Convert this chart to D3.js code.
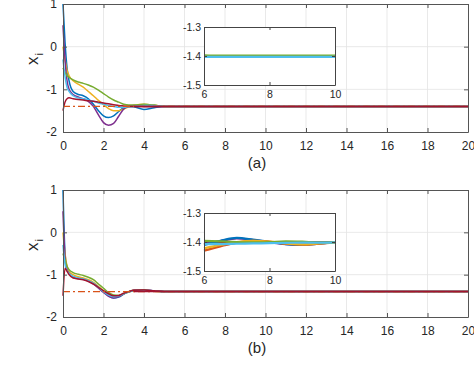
<!DOCTYPE html>
<html>
<head>
<meta charset="utf-8">
<title>Trajectories</title>
<script src="https://cdnjs.cloudflare.com/ajax/libs/d3/7.8.5/d3.min.js"></script>
<style>
body { margin: 0; background: #fff; }
svg { display: block; }
.tick text { font-family: "Liberation Sans", Arial, sans-serif; fill: #262626; }
</style>
</head>
<body>
<svg id="chart" width="474" height="385"></svg>
<script>
// time samples used for the main plots
var tMain = [0, 0.1, 0.2, 0.3, 0.5, 0.75, 1, 1.25, 1.5, 1.75, 2, 2.25, 2.5, 2.75, 3, 3.25, 3.5, 4, 4.5, 5, 5.5, 6, 10, 20];

// panel (a)
var aBlue   = [1, 0.1, -0.5, -0.8, -1.05, -1.12, -1.15, -1.22, -1.35, -1.5, -1.62, -1.66, -1.62, -1.52, -1.43, -1.4, -1.41, -1.47, -1.43, -1.4, -1.4, -1.4, -1.4, -1.4];
var aYellow = [0, -0.3, -0.55, -0.68, -0.8, -0.88, -0.95, -1.05, -1.15, -1.26, -1.36, -1.45, -1.5, -1.5, -1.46, -1.41, -1.38, -1.35, -1.37, -1.4, -1.4, -1.4, -1.4, -1.4];
var aPurple = [0.5, -0.3, -0.8, -1.0, -1.12, -1.18, -1.22, -1.28, -1.4, -1.6, -1.78, -1.84, -1.8, -1.63, -1.46, -1.39, -1.38, -1.4, -1.4, -1.4, -1.4, -1.4, -1.4, -1.4];
var aGreen  = [-0.5, -0.6, -0.68, -0.72, -0.78, -0.83, -0.86, -0.9, -0.95, -1.02, -1.1, -1.18, -1.25, -1.3, -1.35, -1.37, -1.37, -1.35, -1.37, -1.4, -1.4, -1.4, -1.4, -1.4];
var aCyan   = [-0.3, -0.7, -0.95, -1.05, -1.15, -1.2, -1.22, -1.25, -1.28, -1.32, -1.35, -1.38, -1.4, -1.42, -1.42, -1.41, -1.4, -1.38, -1.38, -1.4, -1.4, -1.4, -1.4, -1.4];
var aRed    = [-1.5, -1.3, -1.22, -1.2, -1.22, -1.24, -1.25, -1.27, -1.28, -1.3, -1.32, -1.34, -1.36, -1.38, -1.39, -1.4, -1.4, -1.4, -1.4, -1.4, -1.4, -1.4, -1.4, -1.4];

// panel (b)
var bBlue   = [1, -0.5, -0.85, -0.95, -1.05, -1.08, -1.1, -1.14, -1.2, -1.3, -1.4, -1.5, -1.55, -1.53, -1.46, -1.4, -1.37, -1.36, -1.38, -1.4, -1.4, -1.4, -1.4, -1.4];
var bYellow = [0, -0.5, -0.8, -0.92, -1.0, -1.05, -1.08, -1.12, -1.18, -1.28, -1.38, -1.47, -1.52, -1.5, -1.45, -1.4, -1.37, -1.37, -1.39, -1.4, -1.4, -1.4, -1.4, -1.4];
var bPurple = [0.5, -0.6, -0.88, -0.97, -1.06, -1.09, -1.11, -1.15, -1.22, -1.32, -1.42, -1.51, -1.55, -1.52, -1.45, -1.4, -1.37, -1.36, -1.38, -1.4, -1.4, -1.4, -1.4, -1.4];
var bGreen  = [-0.5, -0.65, -0.8, -0.88, -0.95, -0.99, -1.02, -1.06, -1.12, -1.22, -1.32, -1.42, -1.48, -1.49, -1.45, -1.41, -1.38, -1.37, -1.39, -1.4, -1.4, -1.4, -1.4, -1.4];
var bCyan   = [-0.3, -0.75, -0.9, -0.97, -1.04, -1.08, -1.1, -1.14, -1.2, -1.3, -1.4, -1.48, -1.52, -1.5, -1.45, -1.41, -1.38, -1.38, -1.39, -1.4, -1.4, -1.4, -1.4, -1.4];
var bRed    = [-1.5, -0.85, -0.92, -1.0, -1.08, -1.1, -1.12, -1.16, -1.22, -1.3, -1.38, -1.45, -1.5, -1.49, -1.44, -1.4, -1.37, -1.36, -1.38, -1.4, -1.4, -1.4, -1.4, -1.4];

var reference = -1.4;

// inset data, t from 6 to 10
var tInset = [6, 6.5, 7, 7.5, 8, 8.5, 9, 9.5, 10];
var aInBlue   = [-1.402, -1.402, -1.402, -1.402, -1.402, -1.402, -1.402, -1.402, -1.402];
var aInYellow = [-1.401, -1.401, -1.401, -1.401, -1.401, -1.401, -1.401, -1.401, -1.401];
var aInPurple = [-1.402, -1.402, -1.402, -1.402, -1.402, -1.402, -1.402, -1.402, -1.402];
var aInGreen  = [-1.398, -1.399, -1.399, -1.399, -1.399, -1.399, -1.399, -1.399, -1.399];
var aInCyan   = [-1.403, -1.403, -1.403, -1.403, -1.403, -1.403, -1.403, -1.403, -1.403];
var aInRed    = [-1.402, -1.402, -1.402, -1.402, -1.402, -1.402, -1.402, -1.402, -1.402];

var bInBlue   = [-1.41, -1.396, -1.386, -1.392, -1.4, -1.407, -1.41, -1.406, -1.401];
var bInYellow = [-1.422, -1.41, -1.4, -1.396, -1.399, -1.405, -1.408, -1.405, -1.402];
var bInPurple = [-1.408, -1.397, -1.388, -1.393, -1.401, -1.407, -1.409, -1.405, -1.401];
var bInGreen  = [-1.396, -1.398, -1.4, -1.401, -1.4, -1.398, -1.399, -1.401, -1.401];
var bInCyan   = [-1.407, -1.407, -1.406, -1.405, -1.404, -1.403, -1.402, -1.402, -1.401];
var bInOrange = [-1.43, -1.415, -1.402, -1.396, -1.399, -1.406, -1.409, -1.406, -1.402];
var bInRed    = [-1.4, -1.4, -1.4, -1.4, -1.4, -1.4, -1.4, -1.4, -1.4];

var xTicks = [0, 2, 4, 6, 8, 10, 12, 14, 16, 18, 20];
var yTicks = [-2, -1, 0, 1];
var insetXTicks = [6, 8, 10];
var insetYTicks = [-1.5, -1.4, -1.3];

var col = {
  blue: "#0072BD", orange: "#D95319", yellow: "#EDB120", purple: "#7E2F8E",
  green: "#77AC30", cyan: "#4DBEEE", red: "#A2142F"
};

var svg = d3.select("#chart");

// matlab style labels use a plain hyphen
function fmt(spec) {
  var f = d3.format(spec);
  return function(d) { return f(d).replace("\u2212", "-"); };
}

function drawPanel(top, bottom, series, inset, label) {
  var x = d3.scaleLinear().domain([0, 20]).range([63, 468]);
  var y = d3.scaleLinear().domain([-2, 1]).range([bottom, top]);
  var g = svg.append("g");

  // grid
  g.selectAll(".gx").data(xTicks.slice(1, -1)).enter().append("line")
    .attr("x1", function(d) { return x(d); }).attr("x2", function(d) { return x(d); })
    .attr("y1", top).attr("y2", bottom)
    .attr("stroke", "#e3e3e3").attr("stroke-width", 0.8);
  g.selectAll(".gy").data(yTicks.slice(1, -1)).enter().append("line")
    .attr("y1", function(d) { return y(d); }).attr("y2", function(d) { return y(d); })
    .attr("x1", 63).attr("x2", 468)
    .attr("stroke", "#e3e3e3").attr("stroke-width", 0.8);

  var line = d3.line()
    .x(function(d) { return x(d[0]); })
    .y(function(d) { return y(d[1]); })
    .curve(d3.curveMonotoneX);

  series.forEach(function(s) {
    g.append("path")
      .datum(tMain.map(function(t, i) { return [t, s.v[i]]; }))
      .attr("fill", "none")
      .attr("stroke", s.c)
      .attr("stroke-width", 1.5)
      .attr("d", line);
  });

  // reference, dash-dot
  g.append("path")
    .datum([[0, reference], [20, reference]])
    .attr("fill", "none")
    .attr("stroke", col.orange)
    .attr("stroke-width", 1.3)
    .attr("stroke-dasharray", "7,3,2,3")
    .attr("d", line);
  g.append("path")
    .datum([[3.5, reference], [20, reference]])
    .attr("fill", "none")
    .attr("stroke", col.red)
    .attr("stroke-width", 1.5)
    .attr("d", line);

  // axes
  var ax = g.append("g").attr("transform", "translate(0," + bottom + ")")
    .call(d3.axisBottom(x).tickValues(xTicks).tickSizeInner(-4).tickSizeOuter(0).tickPadding(9));
  var axTop = g.append("g").attr("transform", "translate(0," + top + ")")
    .call(d3.axisTop(x).tickValues(xTicks).tickSizeInner(-4).tickSizeOuter(0).tickFormat(""));
  var ay = g.append("g").attr("transform", "translate(63,0)")
    .call(d3.axisLeft(y).tickValues(yTicks).tickSizeInner(-4).tickSizeOuter(0).tickPadding(6).tickFormat(fmt("d")));
  var ayR = g.append("g").attr("transform", "translate(468,0)")
    .call(d3.axisRight(y).tickValues(yTicks).tickSizeInner(-4).tickSizeOuter(0).tickFormat(""));
  [ax, axTop, ay, ayR].forEach(function(a) {
    a.select(".domain").attr("stroke", "#555").attr("stroke-width", 1);
    a.selectAll(".tick line").attr("stroke", "#555");
    a.selectAll(".tick text").attr("font-size", 12);
  });

  // y label
  var yl = g.append("text")
    .attr("transform", "translate(38," + (top + 55) + ") rotate(-90)")
    .attr("font-family", "Liberation Sans, Arial, sans-serif")
    .attr("fill", "#262626")
    .attr("text-anchor", "middle");
  yl.append("tspan").attr("font-size", 17).text("x");
  yl.append("tspan").attr("font-size", 11).attr("dy", 5).attr("dx", 1).text("i");

  // panel label
  g.append("text")
    .attr("x", 257).attr("y", bottom + 36)
    .attr("text-anchor", "middle")
    .attr("font-family", "Liberation Sans, Arial, sans-serif")
    .attr("font-size", 15)
    .attr("fill", "#262626")
    .text(label);

  // inset
  var ix = d3.scaleLinear().domain([6, 10]).range([204, 335]);
  var iy = d3.scaleLinear().domain([-1.5, -1.3]).range([top + 81, top + 23]);
  var ig = g.append("g");
  ig.append("rect")
    .attr("x", 204).attr("y", top + 23).attr("width", 131).attr("height", 58)
    .attr("fill", "#fff");
  var iline = d3.line()
    .x(function(d) { return ix(d[0]); })
    .y(function(d) { return iy(d[1]); })
    .curve(d3.curveMonotoneX);
  inset.forEach(function(s) {
    ig.append("path")
      .datum(tInset.map(function(t, i) { return [t, s.v[i]]; }))
      .attr("fill", "none")
      .attr("stroke", s.c)
      .attr("stroke-width", 2.2)
      .attr("d", iline);
  });
  var iax = ig.append("g").attr("transform", "translate(0," + (top + 81) + ")")
    .call(d3.axisBottom(ix).tickValues(insetXTicks).tickSizeInner(-3).tickSizeOuter(0).tickPadding(6).tickFormat(fmt("d")));
  var iaxT = ig.append("g").attr("transform", "translate(0," + (top + 23) + ")")
    .call(d3.axisTop(ix).tickValues(insetXTicks).tickSizeInner(-3).tickSizeOuter(0).tickFormat(""));
  var iay = ig.append("g").attr("transform", "translate(204,0)")
    .call(d3.axisLeft(iy).tickValues(insetYTicks).tickSizeInner(-3).tickSizeOuter(0).tickPadding(3).tickFormat(fmt(".1f")));
  var iayR = ig.append("g").attr("transform", "translate(335,0)")
    .call(d3.axisRight(iy).tickValues(insetYTicks).tickSizeInner(-3).tickSizeOuter(0).tickFormat(""));
  [iax, iaxT, iay, iayR].forEach(function(a) {
    a.select(".domain").attr("stroke", "#444").attr("stroke-width", 1);
    a.selectAll(".tick line").attr("stroke", "#444");
    a.selectAll(".tick text").attr("font-size", 10.5);
  });
}

drawPanel(4, 132,
  [{v: aBlue, c: col.blue}, {v: aYellow, c: col.yellow}, {v: aPurple, c: col.purple},
   {v: aGreen, c: col.green}, {v: aCyan, c: col.cyan}, {v: aRed, c: col.red}],
  [{v: aInBlue, c: col.blue}, {v: aInYellow, c: col.yellow}, {v: aInPurple, c: col.purple},
   {v: aInRed, c: col.red}, {v: aInGreen, c: col.green}, {v: aInCyan, c: col.cyan}],
  "(a)");

drawPanel(190, 317,
  [{v: bBlue, c: col.blue}, {v: bYellow, c: col.yellow}, {v: bPurple, c: col.purple},
   {v: bGreen, c: col.green}, {v: bCyan, c: col.cyan}, {v: bRed, c: col.red}],
  [{v: bInRed, c: col.red}, {v: bInPurple, c: col.purple}, {v: bInBlue, c: col.blue},
   {v: bInOrange, c: col.orange}, {v: bInYellow, c: col.yellow}, {v: bInGreen, c: col.green}, {v: bInCyan, c: col.cyan}],
  "(b)");

// figure caption, cut off by the bottom of the image
svg.append("text")
  .attr("x", 0).attr("y", 397)
  .attr("font-family", "Liberation Serif, Times New Roman, serif")
  .attr("font-size", 16)
  .attr("font-weight", "bold")
  .attr("fill", "#111")
  .attr("word-spacing", 3)
  .text("Fig. 1. (a) The trajectories of all agents under the protocol (");
</script>
</body>
</html>
